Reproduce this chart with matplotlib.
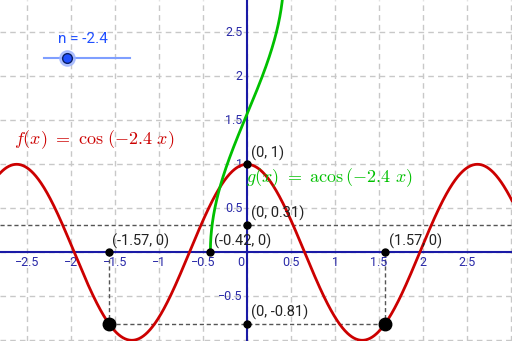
import numpy as np
import matplotlib
matplotlib.use("Agg")
import matplotlib.pyplot as plt

plt.rcParams['mathtext.fontset'] = 'cm'
plt.rcParams['font.family'] = ['Roboto', 'DejaVu Sans']

n = -2.4
xmin, xmax = -2.807, 3.011
ymin, ymax = -1.008, 2.867

# labelled points
pt_x = [0, 0, -0.42, -1.57, 1.57, 0, -1.57, 1.57]
pt_y = [1, 0.31, 0, 0, 0, -0.81, -0.81, -0.81]
pt_size = [5, 5, 5, 5, 5, 5, 9, 9]
lab_txt = ["(0, 1)", "(0, 0.31)", "(-0.42, 0)", "(-1.57, 0)", "(1.57, 0)", "(0, -0.81)"]
lab_x = [0, 0, -0.42, -1.57, 1.57, 0]
lab_y = [1, 0.31, 0, 0, 0, -0.81]

xticks = [-2.5, -2, -1.5, -1, -0.5, 0.5, 1, 1.5, 2, 2.5]
yticks = [-0.5, 0.5, 1, 1.5, 2, 2.5]

red = '#cc0000'
green = '#00c000'
axcol = '#1a1aa6'
tickcol = '#2929a8'

fig = plt.figure(figsize=(5.12, 3.41), dpi=100)
ax = fig.add_axes([0, 0, 1, 1])
ax.set_xlim(xmin, xmax)
ax.set_ylim(ymin, ymax)
for s in ax.spines.values():
    s.set_visible(False)
ax.set_xticks([])
ax.set_yticks([])

# grid
for g in np.arange(-2.5, 3.01, 0.5):
    ax.axvline(g, color='#c8c8c8', lw=1, ls=(0, (4, 3)), zorder=0)
for g in np.arange(-1.0, 2.9, 0.5):
    ax.axhline(g, color='#c8c8c8', lw=1, ls=(0, (4, 3)), zorder=0)

# axes
ax.axhline(0, color=axcol, lw=1.5, zorder=1)
ax.axvline(0, color=axcol, lw=1.5, zorder=1)
for t in xticks:
    ax.text(t, -0.12, f"{t:g}".replace('-', '\u2212'), color=tickcol, fontsize=9,
            ha='center', va='center')
ax.text(-0.03, -0.12, "0", color=tickcol, fontsize=9, ha='right', va='center')
for t in yticks:
    ax.text(-0.05, t, f"{t:g}".replace('-', '\u2212'), color=tickcol, fontsize=9,
            ha='right', va='center')

# helper dashed lines
dcol = '#555555'
ax.axhline(0.31, color=dcol, lw=1, ls=(0, (3, 2)), zorder=1)
ax.plot([-1.57, 1.57], [-0.81, -0.81], color=dcol, lw=1, ls=(0, (3, 2)), zorder=1)
ax.plot([-1.57, -1.57], [0, -0.81], color=dcol, lw=1, ls=(0, (3, 2)), zorder=1)
ax.plot([1.57, 1.57], [0, -0.81], color=dcol, lw=1, ls=(0, (3, 2)), zorder=1)

# functions
x = np.linspace(xmin, xmax, 1000)
ax.plot(x, np.cos(n * x), color=red, lw=2, zorder=3)
xg = np.linspace(-1 / abs(n), 1 / abs(n), 2000)
ax.plot(xg, np.arccos(np.clip(n * xg, -1, 1)), color=green, lw=2, zorder=3)

# points
for px, py, ps in zip(pt_x, pt_y, pt_size):
    ax.plot(px, py, 'o', color='black', ms=ps, zorder=5)
for tx, lx, ly in zip(lab_txt, lab_x, lab_y):
    ax.text(lx + 0.04, ly + 0.04, tx, fontsize=10.5, color='#222222', ha='left', va='bottom', zorder=6)

# function labels
ax.text(-2.65, 1.28, r"$f(x)\ =\ \cos\,(-2.4\ x)$", color=red, fontsize=13, va='center')
ax.text(-0.01, 0.85, r"$g(x)\ =\ \mathrm{acos}\,(-2.4\ x)$", color=green, fontsize=13, va='center')

# slider
sy = 2.207
ax.plot([-2.31, -1.33], [sy, sy], color='#7f9fff', lw=1.5, zorder=4)
ax.plot(-2.05, sy, 'o', color='#9fb5ff', ms=11, zorder=4, alpha=0.8)
ax.plot(-2.05, sy, 'o', color='#1f4fff', mec='#0a1f66', ms=7, zorder=5)
ax.text(-1.87, 2.42, "n = -2.4", color='#1f4fff', fontsize=11, ha='center', va='center')

fig.savefig("out.png", dpi=100)
